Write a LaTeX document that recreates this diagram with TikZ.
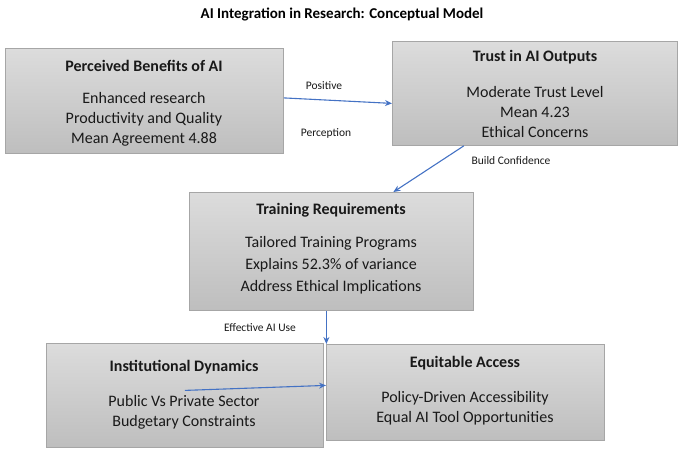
\documentclass[tikz,border=0pt]{standalone}
\usepackage{fontspec}
\setmainfont{Carlito}
\usepackage{tikz}
\usetikzlibrary{calc,arrows.meta}
\definecolor{officeBlue}{HTML}{4472C4}
\definecolor{boxEdge}{HTML}{A6A6A6}
\definecolor{boxTop}{HTML}{DCDCDC}
\definecolor{boxBottom}{HTML}{BEBEBE}
\tikzset{
  box/.style={draw=boxEdge, line width=0.8pt, top color=boxTop, bottom color=boxBottom,
    inner sep=0pt, anchor=north west},
  boxtitle/.style={font=\fontsize{16}{19}\selectfont\bfseries, text=black!90},
  boxbody/.style={font=\fontsize{16}{20}\selectfont, align=center, text=black!90},
  flowlabel/.style={font=\fontsize{11.5}{13}\selectfont, text=black!90},
  flow/.style={draw=officeBlue, line width=1.1pt, -{Stealth[length=7pt,width=6pt]}}
}
\def\boxAt#1#2#3#4#5{% name, left, top, width, height
  \node[box, minimum width=#4pt, minimum height=#5pt] (#1) at (#2,#3) {};
}
\begin{document}
\begin{tikzpicture}[x=1pt,y=-1pt]
  \useasboundingbox (0,0) rectangle (685,458);
  \node[font=\fontsize{15}{17}\selectfont\bfseries] (title) at (342,14)
    {AI Integration in Research: Conceptual Model};
  % upper row
  \boxAt{benefits}{5}{48}{278}{105}
  \node[boxtitle] (benefitsTitle) at (144,66) {Perceived Benefits of AI};
  \node[boxbody] (benefitsBody) at (144,119)
    {Enhanced research\\Productivity and Quality\\Mean Agreement 4.88};
  \boxAt{trust}{392}{41}{285}{104}
  \node[boxtitle] (trustTitle) at (535,57) {Trust in AI Outputs};
  \node[boxbody] (trustBody) at (535,112)
    {Moderate Trust Level\\Mean 4.23\\Ethical Concerns};
  % middle
  \boxAt{training}{189}{192}{284}{118}
  \node[boxtitle] (trainingTitle) at (331,210) {Training Requirements};
  \node[boxbody, font=\fontsize{16}{22}\selectfont] (trainingBody) at (331,265)
    {Tailored Training Programs\\Explains 52.3\% of variance\\Address Ethical Implications};
  % lower row
  \boxAt{institution}{46}{343}{277}{104}
  \node[boxtitle] (institutionTitle) at (184,367) {Institutional Dynamics};
  \node[boxbody] (institutionBody) at (184,412)
    {Public Vs Private Sector\\Budgetary Constraints};
  \boxAt{equitable}{326}{344}{278}{96}
  \node[boxtitle] (equitableTitle) at (465,363) {Equitable Access};
  \node[boxbody] (equitableBody) at (465,408)
    {Policy-Driven Accessibility\\Equal AI Tool Opportunities};
  % connectors
  \draw[flow] ([yshift=3pt]benefits.east) -- ([yshift=-10pt]trust.west);
  \node[flowlabel] (positiveLbl) at (324,86) {Positive};
  \node[flowlabel] (perceptionLbl) at (326,133) {Perception};
  \draw[flow] ([xshift=-71pt]trust.south) -- ([xshift=62pt]training.north);
  \node[flowlabel] (confidenceLbl) at (511,161) {Build Confidence};
  \draw[flow] ([xshift=-5pt]training.south) -- ([xshift=-5pt]training.south |- equitable.north);
  \node[flowlabel] (effectiveLbl) at (260,328) {Effective AI Use};
  \draw[flow] ([yshift=5pt]institution.center) -- ([yshift=7pt]equitable.west);
\end{tikzpicture}
\end{document}
